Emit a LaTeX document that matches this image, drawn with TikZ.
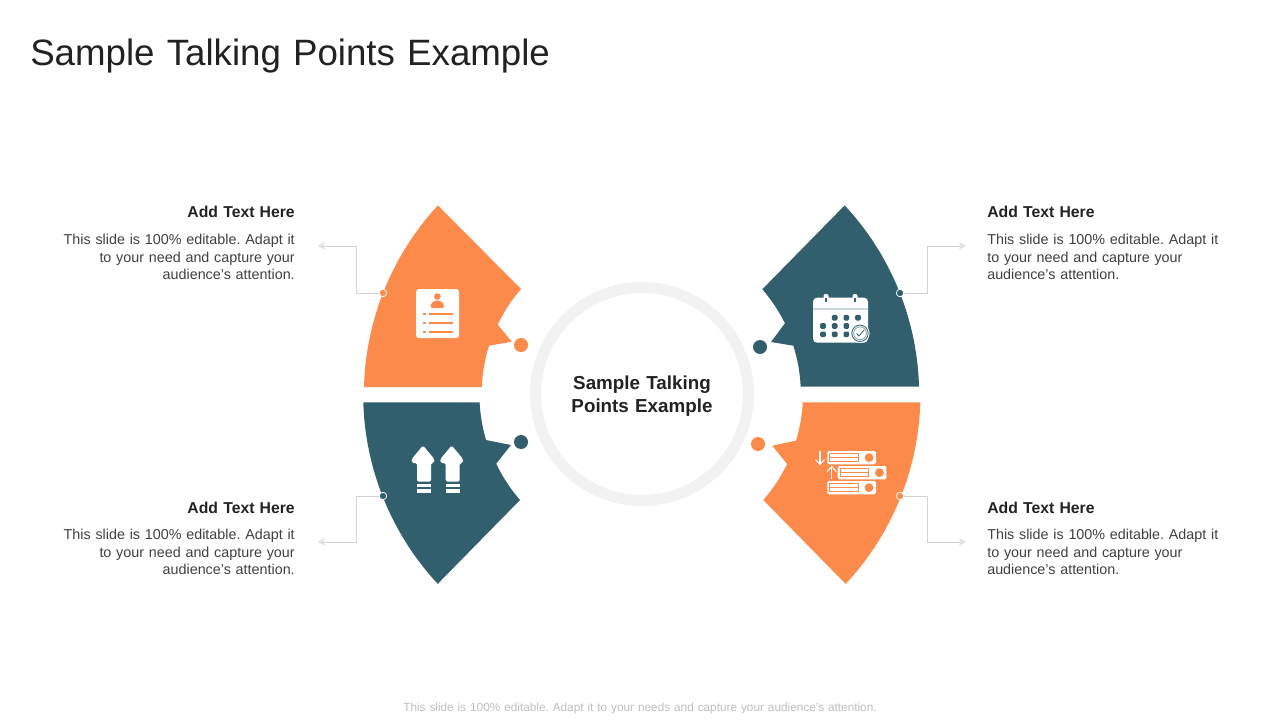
\documentclass[tikz,border=0pt]{standalone}
\usepackage{fontspec}
\setmainfont[WordSpace=1.2]{Liberation Sans}
\frenchspacing
\usetikzlibrary{arrows.meta}
\definecolor{org}{HTML}{FC8A4B}
\definecolor{teal}{HTML}{315F6D}
\definecolor{ringc}{HTML}{F2F2F2}
\definecolor{linec}{HTML}{D4D4D4}
\definecolor{bodyc}{HTML}{404040}
\definecolor{headc}{HTML}{222222}
\definecolor{footc}{HTML}{BFBFBF}
\tikzset{
  titletext/.style={inner sep=0,anchor=base west,text=headc,font=\fontsize{27.5}{32}\selectfont},
  headtext/.style={inner sep=0,text=headc,font=\fontsize{11.8}{14}\selectfont\bfseries},
  bodytext/.style={inner sep=0,text=bodyc,font=\fontsize{10.75}{13.1}\selectfont},
  foottext/.style={inner sep=0,text=footc,font=\fontsize{8.85}{11}\selectfont},
  centertext/.style={inner sep=0,align=center,text=headc,font=\fontsize{14.1}{17.2}\selectfont\bfseries},
  spikedot/.style={circle,inner sep=0,minimum size=10.5pt,fill=#1},
  portdot/.style={circle,inner sep=0,minimum size=5.6pt,fill=#1,draw=white,line width=.6pt},
  conn/.style={draw=linec,line width=.75pt,-{Stealth[length=5.5pt,width=6pt,color=linec!70]}},
}
\begin{document}
\begin{tikzpicture}[x=0.75pt,y=-0.75pt]
\useasboundingbox (0,0) rectangle (1280,720);
\fill[white] (0,0) rectangle (1280,720);
% title and footer
\node[titletext] (title) at (30,66) {Sample Talking Points Example};
\node[foottext,anchor=base] (foot) at (640,711) {This slide is 100\% editable. Adapt it to your needs and capture your audience’s attention.};
% ring
\node[circle,draw=ringc,line width=8.25pt,minimum size=159.75pt,inner sep=0] (ring) at (642,394) {};
\node[centertext] (center) at (642,396.5) {Sample Talking\\Points Example};
% petals
\fill[org] (364,387) arc[start angle=181.5,end angle=222.8,radius=278]
  -- (521,289) arc[start angle=220.9,end angle=205.6,radius=160]
  -- (511.7,341.7) -- (489,345.7) arc[start angle=197.4,end angle=182.5,radius=160] -- (482,387) -- cycle;
\fill[teal] (363.3,402.3) arc[start angle=178.3,end angle=137.1,radius=278.8]
  -- (520,500) arc[start angle=139,end angle=154.4,radius=162]
  -- (511,445) -- (486,440) arc[start angle=163.6,end angle=177,radius=162.3] -- (480,402.3) -- cycle;
\fill[teal] (919,386.5) arc[start angle=-1.65,end angle=-43,radius=277.2]
  -- (762.3,289.3) arc[start angle=-41,end angle=-26.3,radius=159.5]
  -- (771,342) -- (793.3,345.7) arc[start angle=-17.7,end angle=-2.9,radius=159] -- (800.7,386.5) -- cycle;
\fill[org] (920.3,402.3) arc[start angle=1.7,end angle=43,radius=278.4]
  -- (763.3,500) arc[start angle=41.2,end angle=25.8,radius=161]
  -- (772.3,445.7) -- (796,440.7) arc[start angle=16.9,end angle=3,radius=161] -- (802.7,402.3) -- cycle;
% spike dots
\node[spikedot=org] (s1) at (521,345) {};
\node[spikedot=teal] (s2) at (521,442) {};
\node[spikedot=teal] (s3) at (760,347) {};
\node[spikedot=org] (s4) at (758,444) {};
% connectors
\node[portdot=org] (p1) at (383,293) {};
\node[portdot=teal] (p2) at (383,496) {};
\node[portdot=teal] (p3) at (900,293) {};
\node[portdot=org] (p4) at (900,496) {};
\coordinate (a1) at (318,246);
\coordinate (a2) at (318,542);
\coordinate (a3) at (966,246);
\coordinate (a4) at (966,542);
\draw[conn] (p1) -- ++(-27,0) |- (a1);
\draw[conn] (p2) -- ++(-27,0) |- (a2);
\draw[conn] (p3) -- ++(27,0) |- (a3);
\draw[conn] (p4) -- ++(27,0) |- (a4);
% texts
\node[headtext,anchor=base east] (h1) at (295,218) {Add Text Here};
\node[headtext,anchor=base east] (h2) at (295,513) {Add Text Here};
\node[headtext,anchor=base west] (h3) at (987,218) {Add Text Here};
\node[headtext,anchor=base west] (h4) at (987,513) {Add Text Here};
\node[bodytext,align=right,anchor=north east] (b1) at (295,234) {This slide is 100\% editable. Adapt it\\to your need and capture your\\audience’s attention.};
\node[bodytext,align=right,anchor=north east] (b2) at (295,529) {This slide is 100\% editable. Adapt it\\to your need and capture your\\audience’s attention.};
\node[bodytext,align=left,anchor=north west] (b3) at (987,234) {This slide is 100\% editable. Adapt it\\to your need and capture your\\audience’s attention.};
\node[bodytext,align=left,anchor=north west] (b4) at (987,529) {This slide is 100\% editable. Adapt it\\to your need and capture your\\audience’s attention.};
% icon: profile sheet
\fill[white,rounded corners=2.2pt] (416,289) rectangle (459,338);
\fill[org] (437.3,296.5) circle[radius=3.3];
\fill[org,rounded corners=1.5pt] (430.5,308) -- (430.5,304) -- (434.5,300.5) -- (440,300.5) -- (444,304) -- (444,308) -- cycle;
\foreach \yy in {314,323,332}{
  \fill[org] (429.3,\yy-1.4) rectangle (453.3,\yy+1.4);
  \fill[org] (422.7,\yy-1.4) rectangle (425.7,\yy+1.4);
}
% icon: two arrows
\foreach \dx in {0,28.7}{
\begin{scope}[shift={(\dx,0)}]
  \fill[white,rounded corners=1.2pt] (423,445.5) -- (434.3,459) -- (434.3,463) -- (431,463) -- (431,481.7) -- (417,481.7) -- (417,463) -- (411.7,463) -- (411.7,459) -- cycle;
  \fill[white] (417,483.7) rectangle (431,487);
  \fill[white] (417,489) rectangle (431,493.3);
\end{scope}}
% icon: calendar
\fill[white,rounded corners=3pt] (813,297.7) rectangle (868,342.7);
\draw[teal!25,line width=.9pt] (813,309) -- (868,309);
\foreach \xx in {826,855}{
  \fill[white,rounded corners=1.5pt] (\xx-2.5,294) rectangle (\xx+2.5,301);
  \fill[teal] (\xx-1,297.5) rectangle (\xx+1,301.5);
}
\foreach \xx/\yy in {834.7/317.7,846.3/317.7,858/317.7,823/326,834.7/326,846.3/326,823/334.3,834.7/334.3,846.3/334.3}{
  \fill[teal,rounded corners=1pt] (\xx-2.8,\yy-2.8) rectangle (\xx+2.8,\yy+2.8);
}
\fill[white] (860,333.3) circle[radius=9.6];
\draw[teal,line width=.6pt] (860,333.3) circle[radius=8.2];
\draw[teal!60,line width=.6pt] (860,333.3) circle[radius=6.4];
\draw[teal,line width=.6pt] (856.5,333.5) -- (859,336) -- (864,330);
% icon: servers
\foreach \xx/\yy in {827.3/451,837.7/466,827.3/481}{
\begin{scope}[shift={(\xx,\yy)}]
  \fill[white,rounded corners=1.2pt] (0,0) rectangle (48.7,13.3);
  \fill[org] (41.7,6.65) circle[radius=4.4];
  \draw[org,line width=.9pt] (2.5,2.5) rectangle (31,10.8);
  \draw[org,line width=.9pt] (2.5,6.65) -- (31,6.65);
\end{scope}}
\draw[white,line width=.8pt] (820,451) -- (820,464);
\draw[white,line width=.8pt] (815.5,459.5) -- (820,464.5) -- (824.5,459.5);
\draw[white,line width=.8pt] (831.7,479) -- (831.7,467);
\draw[white,line width=.8pt] (827.2,471.5) -- (831.7,466.5) -- (836.2,471.5);
\end{tikzpicture}
\end{document}
